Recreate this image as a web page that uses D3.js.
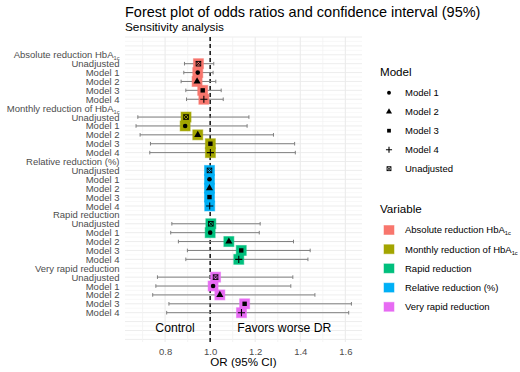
<!DOCTYPE html>
<html>
<head>
<meta charset="utf-8">
<script src="https://cdn.jsdelivr.net/npm/d3@7"></script>
<style>
  body { margin:0; background:#fff; }
  text { font-family: "Liberation Sans", Arial, sans-serif; }
</style>
</head>
<body>
<svg id="chart"></svg>
<script>
var variables = ["Absolute reduction HbA1c","Monthly reduction of HbA1c","Relative reduction (%)","Rapid reduction","Very rapid reduction"];
var models = ["Unadjusted","Model 1","Model 2","Model 3","Model 4"];
// odds ratios, one list per variable, in model order
var absoluteOR = [0.948,0.945,0.942,0.967,0.972];
var absoluteLow = [0.886,0.883,0.871,0.892,0.895];
var absoluteHigh = [1.016,1.013,1.025,1.049,1.058];
var monthlyOR = [0.893,0.889,0.945,1.001,1.001];
var monthlyLow = [0.679,0.671,0.689,0.735,0.732];
var monthlyHigh = [1.172,1.164,1.281,1.375,1.378];
var relativeOR = [0.997,0.997,0.997,0.997,0.998];
var relativeLow = [0.994,0.994,0.994,0.994,0.995];
var relativeHigh = [1.000,1.000,1.000,1.000,1.001];
var rapidOR = [1.003,1.000,1.083,1.138,1.127];
var rapidLow = [0.830,0.825,0.859,0.899,0.892];
var rapidHigh = [1.222,1.218,1.370,1.444,1.434];
var veryRapidOR = [1.024,1.013,1.043,1.153,1.139];
var veryRapidLow = [0.766,0.759,0.745,0.817,0.807];
var veryRapidHigh = [1.367,1.358,1.465,1.627,1.615];
var xTicks = [0.8,1.0,1.2,1.4,1.6];
var xMinor = [0.7,0.9,1.1,1.3,1.5];
var legendModels = ["Model 1","Model 2","Model 3","Model 4","Unadjusted"];
var legendVariables = ["Absolute reduction HbA1c","Monthly reduction of HbA1c","Rapid reduction","Relative reduction (%)","Very rapid reduction"];
var variableColors = ["#F8766D","#A3A500","#00BF7D","#00B0F6","#E76BF3"];

var orList = [absoluteOR,monthlyOR,relativeOR,rapidOR,veryRapidOR];
var lowList = [absoluteLow,monthlyLow,relativeLow,rapidLow,veryRapidLow];
var highList = [absoluteHigh,monthlyHigh,relativeHigh,rapidHigh,veryRapidHigh];

var rows = [];
var points = [];
variables.forEach(function(v,i){
  rows.push({id:"v"+i, label:v});
  models.forEach(function(m,j){
    var id = "v"+i+"-"+j;
    rows.push({id:id, label:m});
    points.push({id:id, variable:v, model:m, or:orList[i][j], low:lowList[i][j], high:highList[i][j]});
  });
});
var labelOf = {};
rows.forEach(function(r){ labelOf[r.id] = r.label; });

makeChart(520,372,"svg#chart");

function addLabel(sel, s) {
  // write a label, with the "1c" of HbA1c as subscript
  sel.text(null);
  if (s.slice(-5) == "HbA1c") {
    sel.append("tspan").text(s.slice(0,-2));
    sel.append("tspan").attr("font-size","0.6em").attr("dy","0.35em").text("1c");
  } else {
    sel.text(s);
  }
}

function drawShape(g, model, s) {
  if (model == "Model 1") {
    g.append("circle").attr("r",2.3*s).attr("fill","black");
  } else if (model == "Model 2") {
    g.append("path").attr("d",d3.symbol(d3.symbolTriangle,22*s*s)()).attr("fill","black");
  } else if (model == "Model 3") {
    g.append("rect").attr("x",-2.2*s).attr("y",-2.2*s).attr("width",4.4*s).attr("height",4.4*s).attr("fill","black");
  } else if (model == "Model 4") {
    g.append("path").attr("d","M"+(-3.6*s)+",0H"+(3.6*s)+"M0,"+(-3.6*s)+"V"+(3.6*s))
     .attr("stroke","black").attr("stroke-width",1.1).attr("fill","none");
  } else {
    var h = 2.3*s;
    g.append("rect").attr("x",-h).attr("y",-h).attr("width",2*h).attr("height",2*h)
     .attr("fill","none").attr("stroke","black").attr("stroke-width",0.9);
    g.append("path").attr("d","M"+(-h)+","+(-h)+"L"+h+","+h+"M"+h+","+(-h)+"L"+(-h)+","+h)
     .attr("stroke","black").attr("stroke-width",0.9);
  }
}

function makeChart(w,h,svgName) {
  var svg = d3.select(svgName)
              .attr("width",w)
              .attr("height",h);

  var panel = {left:125, right:362, top:37, bottom:342};

  var xScale = d3.scaleLinear()
                 .domain([0.622,1.674])
                 .range([panel.left,panel.right]);
  var yScale = d3.scalePoint()
                 .domain(rows.map(function(r){ return r.id; }))
                 .range([54.8,312.7]);
  var step = yScale.step();
  var colors = d3.scaleOrdinal()
                 .domain(legendVariables)
                 .range(variableColors);

  // grid
  var grid = svg.append("g").classed("grid",true);
  for (var k = -4; k <= 65; k++) {
    var gy = 54.8 + k*step/2;
    if (gy < panel.top || gy > panel.bottom) continue;
    grid.append("line")
        .attr("x1",panel.left).attr("x2",panel.right)
        .attr("y1",gy).attr("y2",gy)
        .attr("stroke", k%2==0 ? "#EBEBEB" : "#F4F4F4")
        .attr("stroke-width", k%2==0 ? 0.9 : 0.6);
  }
  grid.selectAll("line.minor")
      .data(xMinor)
      .enter()
      .append("line")
      .classed("minor",true)
      .attr("x1",function(d){ return xScale(d); })
      .attr("x2",function(d){ return xScale(d); })
      .attr("y1",panel.top).attr("y2",panel.bottom)
      .attr("stroke","#F2F2F2").attr("stroke-width",0.8);
  grid.selectAll("line.major")
      .data(xTicks)
      .enter()
      .append("line")
      .classed("major",true)
      .attr("x1",function(d){ return xScale(d); })
      .attr("x2",function(d){ return xScale(d); })
      .attr("y1",panel.top).attr("y2",panel.bottom)
      .attr("stroke","#EBEBEB").attr("stroke-width",1.1);

  // reference line at OR = 1
  svg.append("line")
     .attr("x1",xScale(1)).attr("x2",xScale(1))
     .attr("y1",panel.top).attr("y2",panel.bottom)
     .attr("stroke","black")
     .attr("stroke-width",1.4)
     .attr("stroke-dasharray","4,3");

  var plot = svg.append("g").classed("plot",true);

  // error bars
  var bars = plot.selectAll("g.bar")
                 .data(points)
                 .enter()
                 .append("g")
                 .classed("bar",true)
                 .attr("stroke","#7F7F7F")
                 .attr("stroke-width",1);
  bars.append("line")
      .attr("x1",function(d){ return xScale(d.low); })
      .attr("x2",function(d){ return xScale(d.high); })
      .attr("y1",function(d){ return yScale(d.id); })
      .attr("y2",function(d){ return yScale(d.id); });
  bars.append("line")
      .attr("x1",function(d){ return xScale(d.low); })
      .attr("x2",function(d){ return xScale(d.low); })
      .attr("y1",function(d){ return yScale(d.id)-1.8; })
      .attr("y2",function(d){ return yScale(d.id)+1.8; });
  bars.append("line")
      .attr("x1",function(d){ return xScale(d.high); })
      .attr("x2",function(d){ return xScale(d.high); })
      .attr("y1",function(d){ return yScale(d.id)-1.8; })
      .attr("y2",function(d){ return yScale(d.id)+1.8; });

  // coloured boxes
  plot.selectAll("rect.box")
      .data(points)
      .enter()
      .append("rect")
      .classed("box",true)
      .attr("x",function(d){ return xScale(d.or)-5; })
      .attr("y",function(d){ return yScale(d.id)-5; })
      .attr("width",10)
      .attr("height",10)
      .attr("fill",function(d){ return colors(d.variable); })
      .attr("stroke",function(d){ return colors(d.variable); })
      .attr("stroke-opacity",0.5)
      .attr("stroke-width",1);

  // model symbols
  plot.selectAll("g.sym")
      .data(points)
      .enter()
      .append("g")
      .classed("sym",true)
      .attr("transform",function(d){
        return "translate("+xScale(d.or)+","+yScale(d.id)+")";
      })
      .each(function(d){ drawShape(d3.select(this), d.model, 1); });

  // annotations
  svg.append("text")
     .attr("x",xScale(0.844)).attr("y",332)
     .attr("text-anchor","middle")
     .attr("font-size","12.2px")
     .text("Control");
  svg.append("text")
     .attr("x",xScale(1.329)).attr("y",332)
     .attr("text-anchor","middle")
     .attr("font-size","12.2px")
     .text("Favors worse DR");

  // axes
  var yAxis = d3.axisLeft(yScale)
                .tickSize(0)
                .tickPadding(0)
                .tickFormat(function(d){ return labelOf[d]; });
  var yG = svg.append("g")
              .classed("yAxis",true)
              .attr("transform","translate(119.5,0)")
              .call(yAxis);
  yG.select(".domain").remove();
  yG.selectAll("text")
    .attr("font-size","9.5px")
    .attr("font-family","Liberation Sans, Arial, sans-serif")
    .attr("fill","#4D4D4D")
    .each(function(d){ addLabel(d3.select(this), labelOf[d]); });

  var xAxis = d3.axisBottom(xScale)
                .tickValues(xTicks)
                .tickSize(0)
                .tickPadding(0)
                .tickFormat(d3.format(".1f"));
  var xG = svg.append("g")
              .classed("xAxis",true)
              .attr("transform","translate(0,348)")
              .call(xAxis);
  xG.select(".domain").remove();
  xG.selectAll("text")
    .attr("font-size","9.5px")
    .attr("font-family","Liberation Sans, Arial, sans-serif")
    .attr("fill","#4D4D4D");

  svg.append("text")
     .attr("x",(panel.left+panel.right)/2).attr("y",366)
     .attr("text-anchor","middle")
     .attr("font-size","11.6px")
     .text("OR (95% CI)");

  // titles
  svg.append("text")
     .attr("x",125).attr("y",17)
     .attr("font-size","14.5px")
     .text("Forest plot of odds ratios and confidence interval (95%)");
  svg.append("text")
     .attr("x",125).attr("y",31)
     .attr("font-size","11.8px")
     .text("Sensitivity analysis");

  // legends
  var legend = svg.append("g")
                  .classed("legend",true)
                  .attr("transform","translate(380,0)");
  legend.append("text")
        .attr("x",0).attr("y",76)
        .attr("font-size","11.6px")
        .text("Model");
  var modelLines = legend.selectAll("g.modelLine")
                         .data(legendModels)
                         .enter()
                         .append("g")
                         .classed("modelLine",true)
                         .attr("transform",function(d,i){
                           return "translate(0,"+(92.7+19*i)+")";
                         });
  modelLines.append("g")
            .attr("transform","translate(9,0)")
            .each(function(d){ drawShape(d3.select(this), d, 0.85); });
  modelLines.append("text")
            .attr("x",25).attr("y",3.4)
            .attr("font-size","9.5px")
            .text(function(d){ return d; });

  legend.append("text")
        .attr("x",0).attr("y",212.5)
        .attr("font-size","11.6px")
        .text("Variable");
  var varLines = legend.selectAll("g.varLine")
                       .data(legendVariables)
                       .enter()
                       .append("g")
                       .classed("varLine",true)
                       .attr("transform",function(d,i){
                         return "translate(0,"+(230+19.2*i)+")";
                       });
  varLines.append("rect")
          .attr("x",4).attr("y",-4.5)
          .attr("width",10).attr("height",9)
          .attr("fill",function(d){ return colors(d); })
          .attr("stroke",function(d){ return colors(d); })
          .attr("stroke-opacity",0.5);
  varLines.append("text")
          .attr("x",25).attr("y",3.4)
          .attr("font-size","9.5px")
          .each(function(d){ addLabel(d3.select(this), d); });
}
</script>
</body>
</html>
